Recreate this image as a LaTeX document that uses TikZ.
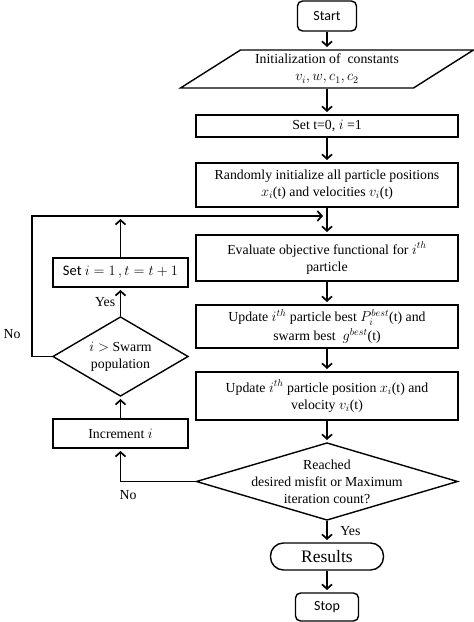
\documentclass[tikz,border=0pt]{standalone}
\usepackage{fontspec}
\setmainfont{Liberation Serif}
\newfontfamily\calibri{Carlito}
\usetikzlibrary{positioning,shapes.geometric,arrows.meta}

\begin{document}
\begin{tikzpicture}[x=1pt,y=1pt,>={Straight Barb[length=4.5pt,width=10pt]},
  every node/.style={font=\fontsize{13.8}{17}\selectfont,align=center,outer sep=0pt},
  box/.style={draw,line width=1.4pt,minimum width=262pt,inner sep=1pt},
  sbox/.style={draw,line width=1.4pt,minimum width=135pt,minimum height=29pt,inner sep=1pt},
  term/.style={draw,line width=1.4pt,rounded corners=5pt,font=\calibri\fontsize{14}{16}\selectfont},
  dec/.style={draw,diamond,line width=1.4pt,inner sep=0pt},
  flow/.style={->,line width=1.7pt,shorten >=3pt,shorten <=1pt}]
  \useasboundingbox (0,0) rectangle (474,622);
  \node[term,minimum width=59pt,minimum height=30pt] (start) at (327,606) {Start};
  \node[minimum width=233pt,minimum height=38pt,inner sep=0pt,below=19pt of start] (init) {Initialization of~ constants\\$v_i, w, c_1, c_2$};
  \draw[line width=1.4pt] ([xshift=30pt]init.north west) -- ([xshift=30pt]init.north east) -- ([xshift=-30pt]init.south east) -- ([xshift=-30pt]init.south west) -- cycle;
  \node[box,minimum height=22pt,below=27pt of init] (set) {Set t=0, $i$ =1};
  \node[box,minimum height=44pt,below=26pt of set] (rand) {Randomly initialize all particle positions\\$x_i$(t) and velocities $v_i$(t)};
  \node[box,minimum height=46pt,below=28pt of rand] (eval) {Evaluate objective functional for $i^{th}$\\particle};
  \node[box,minimum height=43pt,below=24pt of eval,font=\fontsize{13.8}{19}\selectfont] (pbest) {Update $i^{th}$ particle best $P_i^{best}$(t) and\\swarm best~ $g^{best}$(t)};
  \node[box,minimum height=48pt,below=24pt of pbest] (move) {Update $i^{th}$ particle position $x_i$(t) and\\velocity $v_i$(t)};
  \node[dec,minimum width=261pt,minimum height=77pt,below=23pt of move] (reach) {};
  \node (reachtxt) at (reach) {Reached\\desired misfit or Maximum\\iteration count?};
  \node[draw,line width=1.4pt,rounded corners=13pt,minimum width=113pt,minimum height=27pt,inner sep=0pt,font=\fontsize{17.5}{19}\selectfont,below=23pt of reach] (res) {Results};
  \node[term,minimum width=63pt,minimum height=28pt,below=23pt of res] (stop) {Stop};

  \node[sbox,font=\calibri\fontsize{14.5}{16}\selectfont] (reset) at (120.5,349.5) {Set $i=1\,,t=t+1$};
  \node[dec,aspect=1.71,minimum width=135pt,minimum height=79pt,below=30pt of reset] (swarm) {$i >$ Swarm\\population};
  \node[sbox,below=23pt of swarm] (incr) {Increment $i$};

  \coordinate (join) at ([xshift=-4pt,yshift=-9pt]rand.south);
  \draw[flow] (start) -- (init);
  \draw[flow] (init) -- (set);
  \draw[flow] (set) -- (rand);
  \draw[flow] (rand) -- (eval);
  \draw[flow] (eval) -- (pbest);
  \draw[flow] (pbest) -- (move);
  \draw[flow] (move) -- (reach);
  \draw[flow] (reach) -- node[right=10pt] (yes2) {Yes} (res);
  \draw[flow] (res) -- (stop);
  \draw[flow,shorten <=0pt] (reach.west) -| node[pos=0.45,below=6pt] (no2) {No} (incr.south);
  \draw[flow] (incr) -- (swarm);
  \draw[flow] (swarm) -- node[left=2pt] (yes1) {Yes} (reset);
  \draw[flow] (reset) -- (reset.north |- join);
  \draw[flow,shorten <=0pt,shorten >=0pt] (swarm.west) -- ++(-21,0) |- (join);
  \node (no1) at (12,288) {No};
\end{tikzpicture}
\end{document}
